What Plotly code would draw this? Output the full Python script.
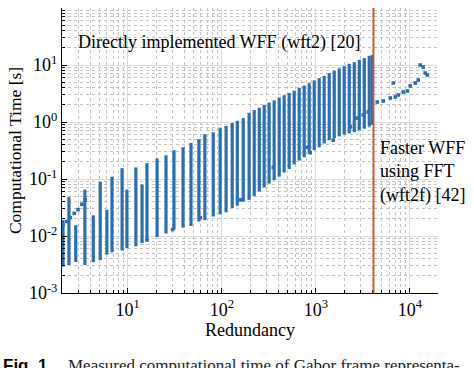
import plotly.graph_objects as go

# ---------------- data ----------------
# Directly implemented WFF: each redundancy value has a column of timings
col_redundancy = [2.05, 2.37, 2.8, 3.5, 4.3, 5.1, 6.0, 6.8, 8.7, 9.8, 12.2, 14.2, 16, 20.5,
                  25.5, 31, 38.7, 47, 57, 66, 81, 96, 111, 129, 146, 169, 195,
                  221, 250, 282, 318, 360, 407, 460, 520, 588, 664, 751, 849, 960,
                  1084, 1225, 1386, 1567, 1770, 2000, 2260, 2560, 2890, 3270, 3690, 3980]
col_time_max = [0.019, 0.048, 0.0155, 0.065, 0.023, 0.089, 0.029, 0.11, 0.155, 0.065, 0.16, 0.08,
                0.19, 0.23, 0.26, 0.32, 0.36, 0.43, 0.50, 0.61, 0.66, 0.78, 0.85, 0.96, 1.05,
                1.17, 1.45, 1.62, 1.78, 2.0, 2.19, 2.4, 2.69, 2.95, 3.24, 3.55, 3.98, 4.37,
                4.79, 5.37, 5.89, 6.46, 7.24, 7.94, 8.71, 9.55, 10.5, 11.2, 12.3, 13.2, 14.5, 15.1]
col_time_min = [0.0029, 0.0031, 0.0035, 0.0031, 0.0035, 0.0038, 0.0047, 0.0052, 0.0056, 0.0061,
                0.0066, 0.0075, 0.0085, 0.0096, 0.011, 0.013, 0.014, 0.015, 0.018, 0.019,
                0.022, 0.024, 0.026, 0.031, 0.034, 0.040, 0.043, 0.050, 0.060, 0.071, 0.083,
                0.095, 0.11, 0.13, 0.15, 0.18, 0.21, 0.24, 0.28, 0.32, 0.36, 0.42, 0.48,
                0.52, 0.56, 0.60, 0.63, 0.66, 0.71, 0.76, 0.83, 0.89]

# Sparse measurements (short diagonal at low redundancy, lower envelope, FFT-based WFF)
pts_redundancy = [2.05, 2.25, 2.45, 2.7, 2.96, 3.25, 3.52,
                  16, 30, 59, 157, 352, 807, 870, 1530,
                  2320, 2750, 3190, 3600, 3970,
                  4490, 5200, 6170, 6640, 6980, 7510, 8490, 9360, 10070, 11380, 12240,
                  12850, 13830, 14550, 15270]
pts_time = [0.0155, 0.018, 0.021, 0.025, 0.029, 0.036, 0.043,
            0.0085, 0.013, 0.021, 0.043, 0.16, 0.36, 0.29, 0.48,
            0.82, 1.17, 1.33, 1.5, 1.76,
            2.24, 2.33, 2.64, 4.83, 2.75, 2.98, 3.36, 3.50, 4.29, 4.83, 5.46,
            10.0, 9.2, 7.24, 6.68]

threshold_redundancy = 4096
arrow1_time = 81
arrow2_time = 3.95

x_tick_vals = [10, 100, 1000, 10000]
x_tick_text = ["10<sup>1</sup>", "10<sup>2</sup>", "10<sup>3</sup>", "10<sup>4</sup>"]
y_tick_vals = [0.001, 0.01, 0.1, 1, 10, 100]
y_tick_text = ["10<sup>-3</sup>", "10<sup>-2</sup>", "10<sup>-1</sup>", "10<sup>0</sup>",
               "10<sup>1</sup>", "10<sup>2</sup>"]
x_minor_vals = [m * d for d in (1, 10, 100, 1000, 10000) for m in range(2, 10)]
y_minor_vals = [m * d for d in (0.001, 0.01, 0.1, 1, 10) for m in range(2, 10)]

# ---------------- figure ----------------
BLUE = "#2b6fb3"
RED = "#D95319"
SERIF = "Liberation Serif"

seg_x, seg_y = [], []
for xv, lo, hi in zip(col_redundancy, col_time_min, col_time_max):
    seg_x += [xv, xv, None]
    seg_y += [lo, hi, None]

fig = go.Figure()
fig.add_trace(go.Scatter(x=seg_x, y=seg_y, mode="lines",
                         line=dict(color=BLUE, width=3.2), hoverinfo="skip",
                         showlegend=False))
fig.add_trace(go.Scatter(x=pts_redundancy, y=pts_time, mode="markers",
                         marker=dict(color=BLUE, size=3.6, symbol="square"),
                         showlegend=False))

fig.add_vline(x=threshold_redundancy, line=dict(color=RED, width=1.8))

fig.add_annotation(x=threshold_redundancy, y=arrow1_time, xref="x", yref="y",
                   text="", showarrow=True, arrowhead=2, arrowsize=1, arrowwidth=1.5,
                   arrowcolor="black", ax=-40, ay=12, standoff=0)
fig.add_annotation(x=0, y=1, xref="paper", yref="paper", xshift=14, yshift=-34,
                   text="Directly implemented WFF (wft2) [20]", showarrow=False,
                   xanchor="left", yanchor="middle",
                   font=dict(family=SERIF, size=18, color="black"))

fig.add_annotation(x=threshold_redundancy, y=arrow2_time, xref="x", yref="y",
                   text="", showarrow=True, arrowhead=2, arrowsize=1, arrowwidth=1.5,
                   arrowcolor="black", ax=19, ay=52, standoff=0)
fig.add_annotation(x=1, y=1, xref="paper", yref="paper", xshift=-60, yshift=-128,
                   text="Faster WFF<br>using FFT<br>(wft2f) [42]", showarrow=False,
                   xanchor="left", yanchor="top", align="left",
                   font=dict(family=SERIF, size=18, color="black"))

# caption (cut off at the bottom of the image)
fig.add_annotation(x=0, y=0, xref="paper", yref="paper", xshift=-61, yshift=-61,
                   text="<b>Fig. 1</b>", showarrow=False, xanchor="left", yanchor="top",
                   font=dict(family="Liberation Sans", size=17, color="black"))
fig.add_annotation(x=0, y=0, xref="paper", yref="paper", xshift=4, yshift=-61,
                   text="Measured computational time of Gabor frame representa-",
                   showarrow=False, xanchor="left", yanchor="top",
                   font=dict(family=SERIF, size=17, color="#222"))

axis_common = dict(
    type="log", showline=True, linecolor="black", linewidth=1, mirror=False,
    ticks="inside", ticklen=5, tickcolor="black", automargin=False,
    showgrid=True, gridcolor="#dcdcdc", gridwidth=1, zeroline=False,
    tickfont=dict(family=SERIF, size=18, color="black"),
)

fig.update_xaxes(**axis_common, range=[0.301, 4.298],
                 tickvals=x_tick_vals, ticktext=x_tick_text,
                 minor=dict(ticks="inside", ticklen=3, tickcolor="black", showgrid=True,
                            gridcolor="#c4c4c4", griddash="dot", gridwidth=1,
                            tickmode="array", tickvals=x_minor_vals),
                 title=dict(text="Redundancy", font=dict(family=SERIF, size=18, color="black"),
                            standoff=4))
fig.update_yaxes(**axis_common, range=[-3, 2],
                 tickvals=y_tick_vals, ticktext=y_tick_text,
                 minor=dict(ticks="inside", ticklen=3, tickcolor="black", showgrid=True,
                            gridcolor="#c4c4c4", griddash="dot", gridwidth=1,
                            tickmode="array", tickvals=y_minor_vals),
                 title=dict(text="Computational Time [s]",
                            font=dict(family=SERIF, size=17.5, color="black"), standoff=2))

fig.update_layout(width=474, height=368, margin=dict(l=62, r=36, t=8, b=75),
                  plot_bgcolor="white", paper_bgcolor="white", showlegend=False)

fig.write_html("out.html", config={"displayModeBar": False},
               post_script="document.body.style.margin='0';document.body.style.overflow='hidden';")
